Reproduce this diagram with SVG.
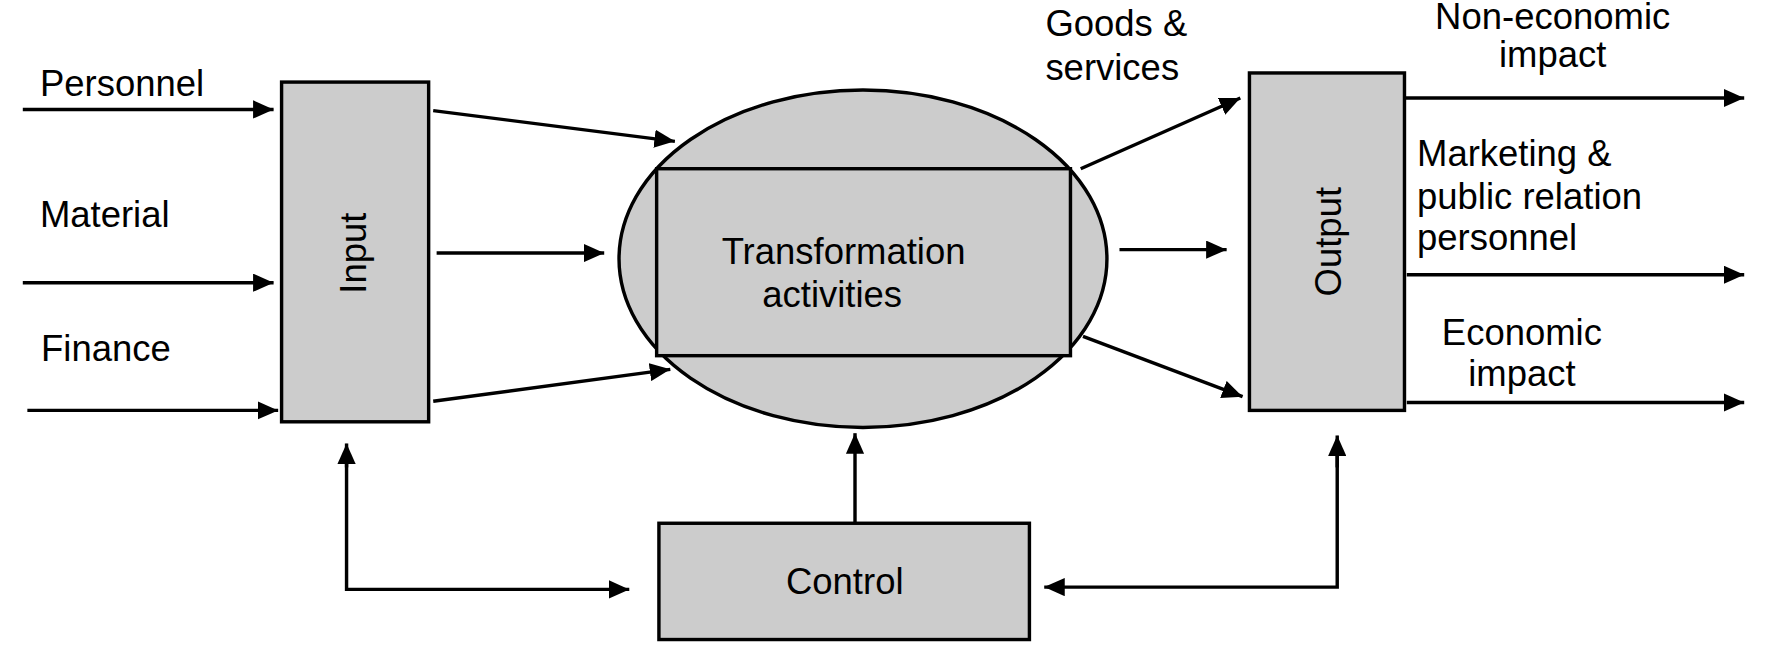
<svg xmlns="http://www.w3.org/2000/svg" width="1786" height="657" viewBox="0 0 1786 657">
<style>
.b{fill:#cccccc;stroke:#000;stroke-width:3}
.l{fill:none;stroke:#000;stroke-width:3}
text{font-family:"Liberation Sans",Arial,sans-serif;font-size:32px;fill:#000}
</style>
<defs>
<marker id="a" markerUnits="userSpaceOnUse" markerWidth="20" markerHeight="16" refX="18" refY="8" orient="auto"><path d="M0,0 L18,8 L0,16 Z" fill="#000"/></marker>
</defs>
<rect width="1786" height="657" fill="#fff"/>
<g transform="scale(1.14)">
<g id="input"><rect class="b" x="247" y="72" width="129" height="298"/><text transform="translate(321,222) rotate(-90)" text-anchor="middle" font-size="30">Input</text></g>
<g id="transform"><ellipse class="b" cx="757" cy="227" rx="214" ry="148"/><rect class="b" x="576" y="148" width="363" height="164"/><text x="740" y="232" text-anchor="middle" font-size="41">Transformation</text><text x="730" y="269" text-anchor="middle" font-size="41">activities</text></g>
<g id="output"><rect class="b" x="1096" y="64" width="136" height="296"/><text transform="translate(1176,212) rotate(-90)" text-anchor="middle" font-size="30">Output</text></g>
<g id="control"><rect class="b" x="578" y="459" width="325" height="102"/><text x="741" y="521" text-anchor="middle">Control</text></g>
<g id="labels">
<text x="35" y="84">Personnel</text>
<text x="35" y="199">Material</text>
<text x="36" y="317">Finance</text>
<text x="917" y="32">Goods &amp;</text>
<text x="917" y="70">services</text>
<text x="1362" y="25" text-anchor="middle">Non-economic</text>
<text x="1362" y="59" text-anchor="middle">impact</text>
<text x="1243" y="146">Marketing &amp;</text>
<text x="1243" y="183">public relation</text>
<text x="1243" y="219">personnel</text>
<text x="1335" y="303" text-anchor="middle">Economic</text>
<text x="1335" y="339" text-anchor="middle">impact</text>
</g>
<g id="connectors" class="l" marker-end="url(#a)">
<line x1="20" y1="96" x2="240" y2="96"/>
<line x1="20" y1="248" x2="240" y2="248"/>
<line x1="24" y1="360" x2="244" y2="360"/>
<line x1="380" y1="97" x2="592" y2="124"/>
<line x1="383" y1="222" x2="530" y2="222"/>
<line x1="380" y1="352" x2="588" y2="324"/>
<line x1="948" y1="148" x2="1088" y2="86"/>
<line x1="982" y1="219" x2="1076" y2="219"/>
<line x1="950" y1="295" x2="1090" y2="348"/>
<line x1="1232" y1="86" x2="1530" y2="86"/>
<line x1="1234" y1="241" x2="1530" y2="241"/>
<line x1="1234" y1="353" x2="1530" y2="353"/>
<line x1="750" y1="459" x2="750" y2="380"/>
<polyline points="304,400 304,517 552,517"/>
<line x1="304" y1="410" x2="304" y2="389"/>
<polyline points="1173,400 1173,515 916,515"/>
<line x1="1173" y1="410" x2="1173" y2="382"/>
</g>
</g>
</svg>
